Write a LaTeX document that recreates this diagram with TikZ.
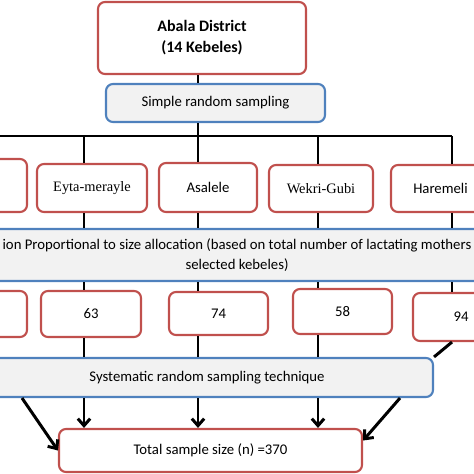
\documentclass[tikz,border=0pt]{standalone}
\usepackage{fontspec}
\setmainfont{Carlito}
\newfontfamily\timesfont{Liberation Serif}
\usepackage{tikz}
\usetikzlibrary{arrows.meta,calc}

\definecolor{boxred}{HTML}{C0504D}
\definecolor{boxblue}{HTML}{4F81BD}
\definecolor{boxgray}{HTML}{F2F2F2}

\begin{document}
\begin{tikzpicture}[x=0.02cm,y=-0.02cm,
	size/.style 2 args={minimum width=#1*0.02cm,minimum height=#2*0.02cm},
	redbox/.style={draw=boxred,line width=1.2pt,rounded corners=4pt,fill=white,inner sep=0pt,font=\fontsize{8.4}{10}\selectfont},
	bluebox/.style={draw=boxblue,line width=1.2pt,rounded corners=4pt,fill=boxgray,inner sep=0pt,font=\fontsize{8.4}{11.3}\selectfont},
	serif/.style={font=\timesfont\fontsize{8.2}{10}\selectfont},
	link/.style={line width=1.7pt},
	arr/.style={line width=1.7pt,-{Straight Barb[length=4pt,width=7pt]}}]
	\useasboundingbox (0,0) rectangle (474,474);
	\clip (0,0) rectangle (474,474);
	
	\node[redbox,size={208}{72},font=\bfseries\fontsize{9.1}{12}\selectfont,align=center] (dist) at (202,38) {Abala District\\(14 Kebeles)};
	\node[bluebox,size={219}{38}] (srs) at (215.5,103) {Simple random sampling};
	
	\node[redbox,size={97}{53}] (kone) at (-21.5,185.5) {};
	\node[redbox,serif,size={110}{48}] (eyta) at (92,188) {Eyta-merayle};
	\node[redbox,size={98}{49}] (asalele) at (208,187.5) {Asalele};
	\node[redbox,serif,size={104}{47}] (wekri) at (321,188.5) {Wekri-Gubi};
	\node[redbox,size={99}{47}] (haremeli) at (440.5,188.5) {Haremeli};
	
	\node[bluebox,size={540}{52},align=center] (ppsa) at (237,255) {ion Proportional to size allocation (based on total number of lactating mothers\\selected kebeles)};
	
	\node[redbox,size={97}{46}] (none) at (-21.5,314) {};
	\node[redbox,size={100}{46}] (n63) at (91,314) {63};
	\node[redbox,size={99}{43}] (n74) at (218.5,313.5) {74};
	\node[redbox,size={99}{45}] (n58) at (342.5,311.5) {58};
	\node[redbox,size={96}{48}] (n94) at (461,317) {94};
	
	\node[bluebox,size={452}{39}] (syst) at (207,377.5) {Systematic random sampling technique};
	\node[redbox,size={303}{43}] (total) at (210.5,450.5) {Total sample size (n) =370};
	
	\coordinate (bl) at (-21.5,136);
	\coordinate (c1) at (84,136);
	\coordinate (c2) at (198,136);
	\coordinate (c3) at (318,136);
	\coordinate (c4) at (452,136);
	\coordinate (dl) at (22,0);
	\coordinate (dr) at (400,0);
	
	\draw[link] (dist.south -| c2) -- (srs.north -| c2);
	\draw[link] (srs.south -| c2) -- (c2);
	\draw[link] (bl) -- (c4);
	\draw[link] (bl) -- (bl |- kone.north);
	\foreach \c/\k/\n in {c1/eyta/n63,c2/asalele/n74,c3/wekri/n58,c4/haremeli/n94}
	{\draw[link] (\c) -- (\c |- \k.north);
	 \draw[link] (\k.south -| \c) -- (ppsa.north -| \c);
	 \draw[link] (ppsa.south -| \c) -- (\n.north -| \c);}
	\foreach \c/\n in {c1/n63,c2/n74,c3/n58}
	{\draw[link] (\n.south -| \c) -- (syst.north -| \c);}
	\draw[link] (n94.south -| c4) -- (syst.north east);
	
	\foreach \c in {c1,c2,c3}
	{\draw[arr] (syst.south -| \c) -- (total.north -| \c);}
	\draw[arr] (syst.south -| dl) -- (total.west);
	\draw[arr] (syst.south -| dr) -- ($(total.east)+(0,-10)$);
\end{tikzpicture}
\end{document}
